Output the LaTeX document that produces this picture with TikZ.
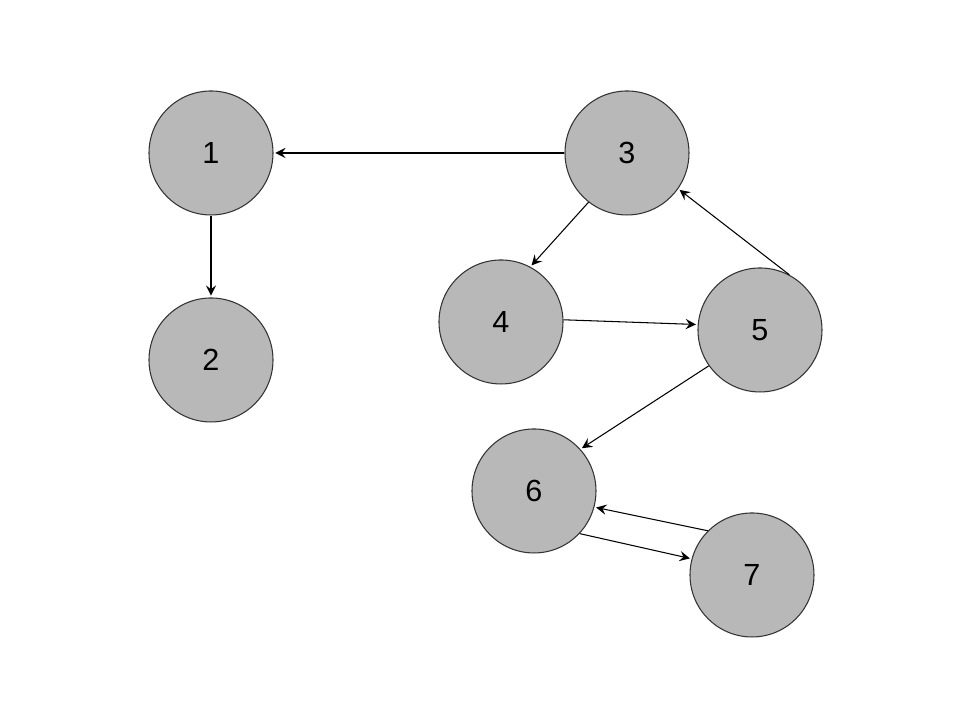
\documentclass[tikz,border=0pt]{standalone}
\usepackage{fontspec}
\setmainfont{Liberation Sans}
\definecolor{nodegray}{HTML}{B8B8B8}
\begin{document}
\begin{tikzpicture}[
    >=stealth,
    line width=0.3pt,
    vertex/.style={draw=black!80, fill=nodegray, shape=circle, minimum size=1.24cm, inner sep=0pt, font=\fontsize{8.7}{10}\selectfont},
    edge/.style={->, shorten >=0.5pt}
]
    \useasboundingbox (0, 0) rectangle (9.6, 7.2);

    % NODES
    \node (n1) at (2.11, 5.67) [vertex] {1};
    \node (n2) at (2.11, 3.60) [vertex] {2};
    \node (n3) at (6.27, 5.67) [vertex] {3};
    \node (n4) at (5.01, 3.98) [vertex] {4};
    \node (n5) at (7.60, 3.90) [vertex] {5};
    \node (n6) at (5.34, 2.29) [vertex] {6};
    \node (n7) at (7.52, 1.45) [vertex] {7};

    % EDGES
    \draw[edge] (n3) -- (n1);
    \draw[edge] (n1) -- (n2);
    \draw[edge] (n3.232) -- (n4.62);
    \draw[edge] (n5.62) -- (n3.325);
    \draw[edge] (n4.2) -- (n5.175);
    \draw[edge] (n5.215) -- (n6.42);
    \draw[edge] (n6.317) -- (n7.165);
    \draw[edge] (n7.135) -- (n6.345);
\end{tikzpicture}
\end{document}
